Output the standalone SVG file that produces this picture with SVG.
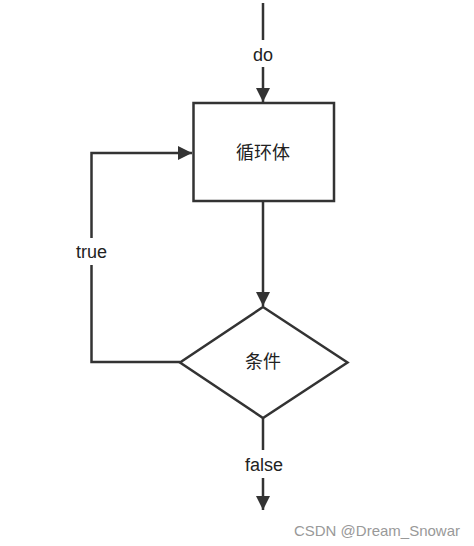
<svg xmlns="http://www.w3.org/2000/svg" width="474" height="546" viewBox="0 0 474 546">
<style>
.ln{stroke:#333;stroke-width:2.5;fill:none}
.shape{stroke:#333;stroke-width:2.5;fill:#fff}
.lbl{font-family:"Liberation Sans","Noto Sans CJK SC",sans-serif;font-size:18px;fill:#222;text-anchor:middle;dominant-baseline:central}
.wm{font-family:"Liberation Sans",sans-serif;font-size:15px;fill:#999;text-anchor:middle;dominant-baseline:central}
</style>
<defs>
<marker id="ah" viewBox="0 0 10 10" refX="10" refY="5" markerWidth="8" markerHeight="5.6" markerUnits="strokeWidth" orient="auto">
<path d="M0,0 L10,5 L0,10 z" fill="#333"/>
</marker>
</defs>
<rect width="474" height="546" fill="#fff"/>
<g id="connectors">
<line class="ln" x1="263" y1="3" x2="263" y2="40"/>
<line class="ln" x1="263" y1="67" x2="263" y2="102" marker-end="url(#ah)"/>
<line class="ln" x1="263" y1="201" x2="263" y2="306" marker-end="url(#ah)"/>
<polyline class="ln" points="180,362 91.5,362 91.5,265"/>
<polyline class="ln" points="91.5,238 91.5,153 192,153" marker-end="url(#ah)"/>
<line class="ln" x1="263" y1="418" x2="263" y2="450"/>
<line class="ln" x1="263" y1="478" x2="263" y2="510" marker-end="url(#ah)"/>
<text class="lbl" x="263" y="55">do</text>
<text class="lbl" x="91.5" y="252">true</text>
<text class="lbl" x="264" y="465">false</text>
</g>
<g id="loop-body">
<rect class="shape" x="193.5" y="103" width="140.5" height="98"/>
<text class="lbl" x="263" y="153">循环体</text>
</g>
<g id="condition">
<polygon class="shape" points="263,307 347.5,362.5 263,418 180,362.5"/>
<text class="lbl" x="263" y="362">条件</text>
</g>
<text class="wm" x="377" y="530">CSDN @Dream_Snowar</text>
</svg>
